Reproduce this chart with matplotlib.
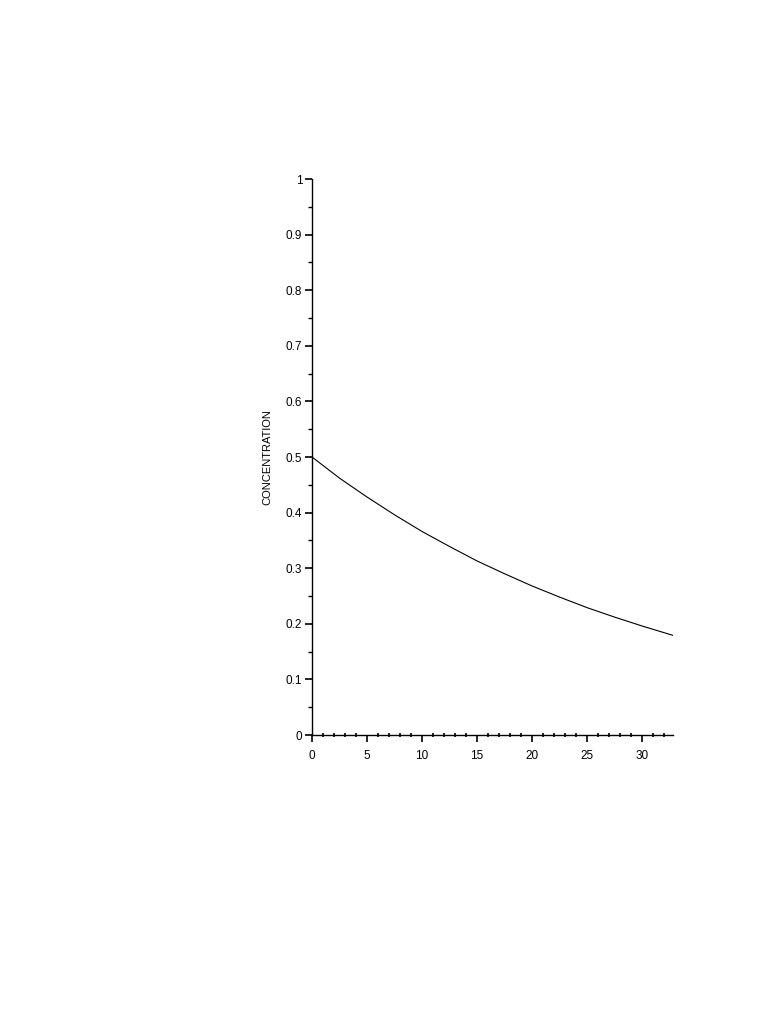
import matplotlib
matplotlib.use("Agg")
import matplotlib.pyplot as plt
from matplotlib.ticker import MultipleLocator

time = [0, 2.5, 5, 7.5, 10, 12.5, 15, 17.5, 20, 22.5, 25, 27.5, 30, 33]
concentration = [0.500, 0.462, 0.428, 0.396, 0.366, 0.339, 0.313, 0.290, 0.268, 0.248, 0.229, 0.212, 0.196, 0.178]
x_ticks = [0, 5, 10, 15, 20, 25, 30]
y_ticks = [0, 0.1, 0.2, 0.3, 0.4, 0.5, 0.6, 0.7, 0.8, 0.9, 1]
y_labels = ["0", "0.1", "0.2", "0.3", "0.4", "0.5", "0.6", "0.7", "0.8", "0.9", "1"]

plt.rcParams['font.family'] = ['Liberation Sans', 'DejaVu Sans']

fig = plt.figure(figsize=(7.68, 10.24), dpi=100)
ax = fig.add_axes([312/768, 1 - 735/1024, (673 - 312)/768, (735 - 179)/1024])

ax.plot(time, concentration, color='black', linewidth=0.8)

ax.set_xlim(0, 32.8)
ax.set_ylim(0, 1)
ax.set_xticks(x_ticks)
ax.set_xticklabels([str(v) for v in x_ticks])
ax.set_yticks(y_ticks)
ax.set_yticklabels(y_labels)
ax.xaxis.set_minor_locator(MultipleLocator(1))
ax.yaxis.set_minor_locator(MultipleLocator(0.05))

for s in ['top', 'right']:
    ax.spines[s].set_visible(False)
for s in ['left', 'bottom']:
    ax.spines[s].set_linewidth(1.0)

ax.tick_params(axis='both', which='major', length=5, width=1.2, labelsize=8.5, direction='out', pad=2)
ax.tick_params(axis='x', which='major', pad=6)
ax.tick_params(axis='x', which='minor', length=3, width=1.2, direction='inout')
ax.tick_params(axis='y', which='minor', length=3, width=1.0, direction='out')

ax.set_ylabel('CONCENTRATION', fontsize=8, labelpad=10)

fig.savefig('out.png', dpi=100)
